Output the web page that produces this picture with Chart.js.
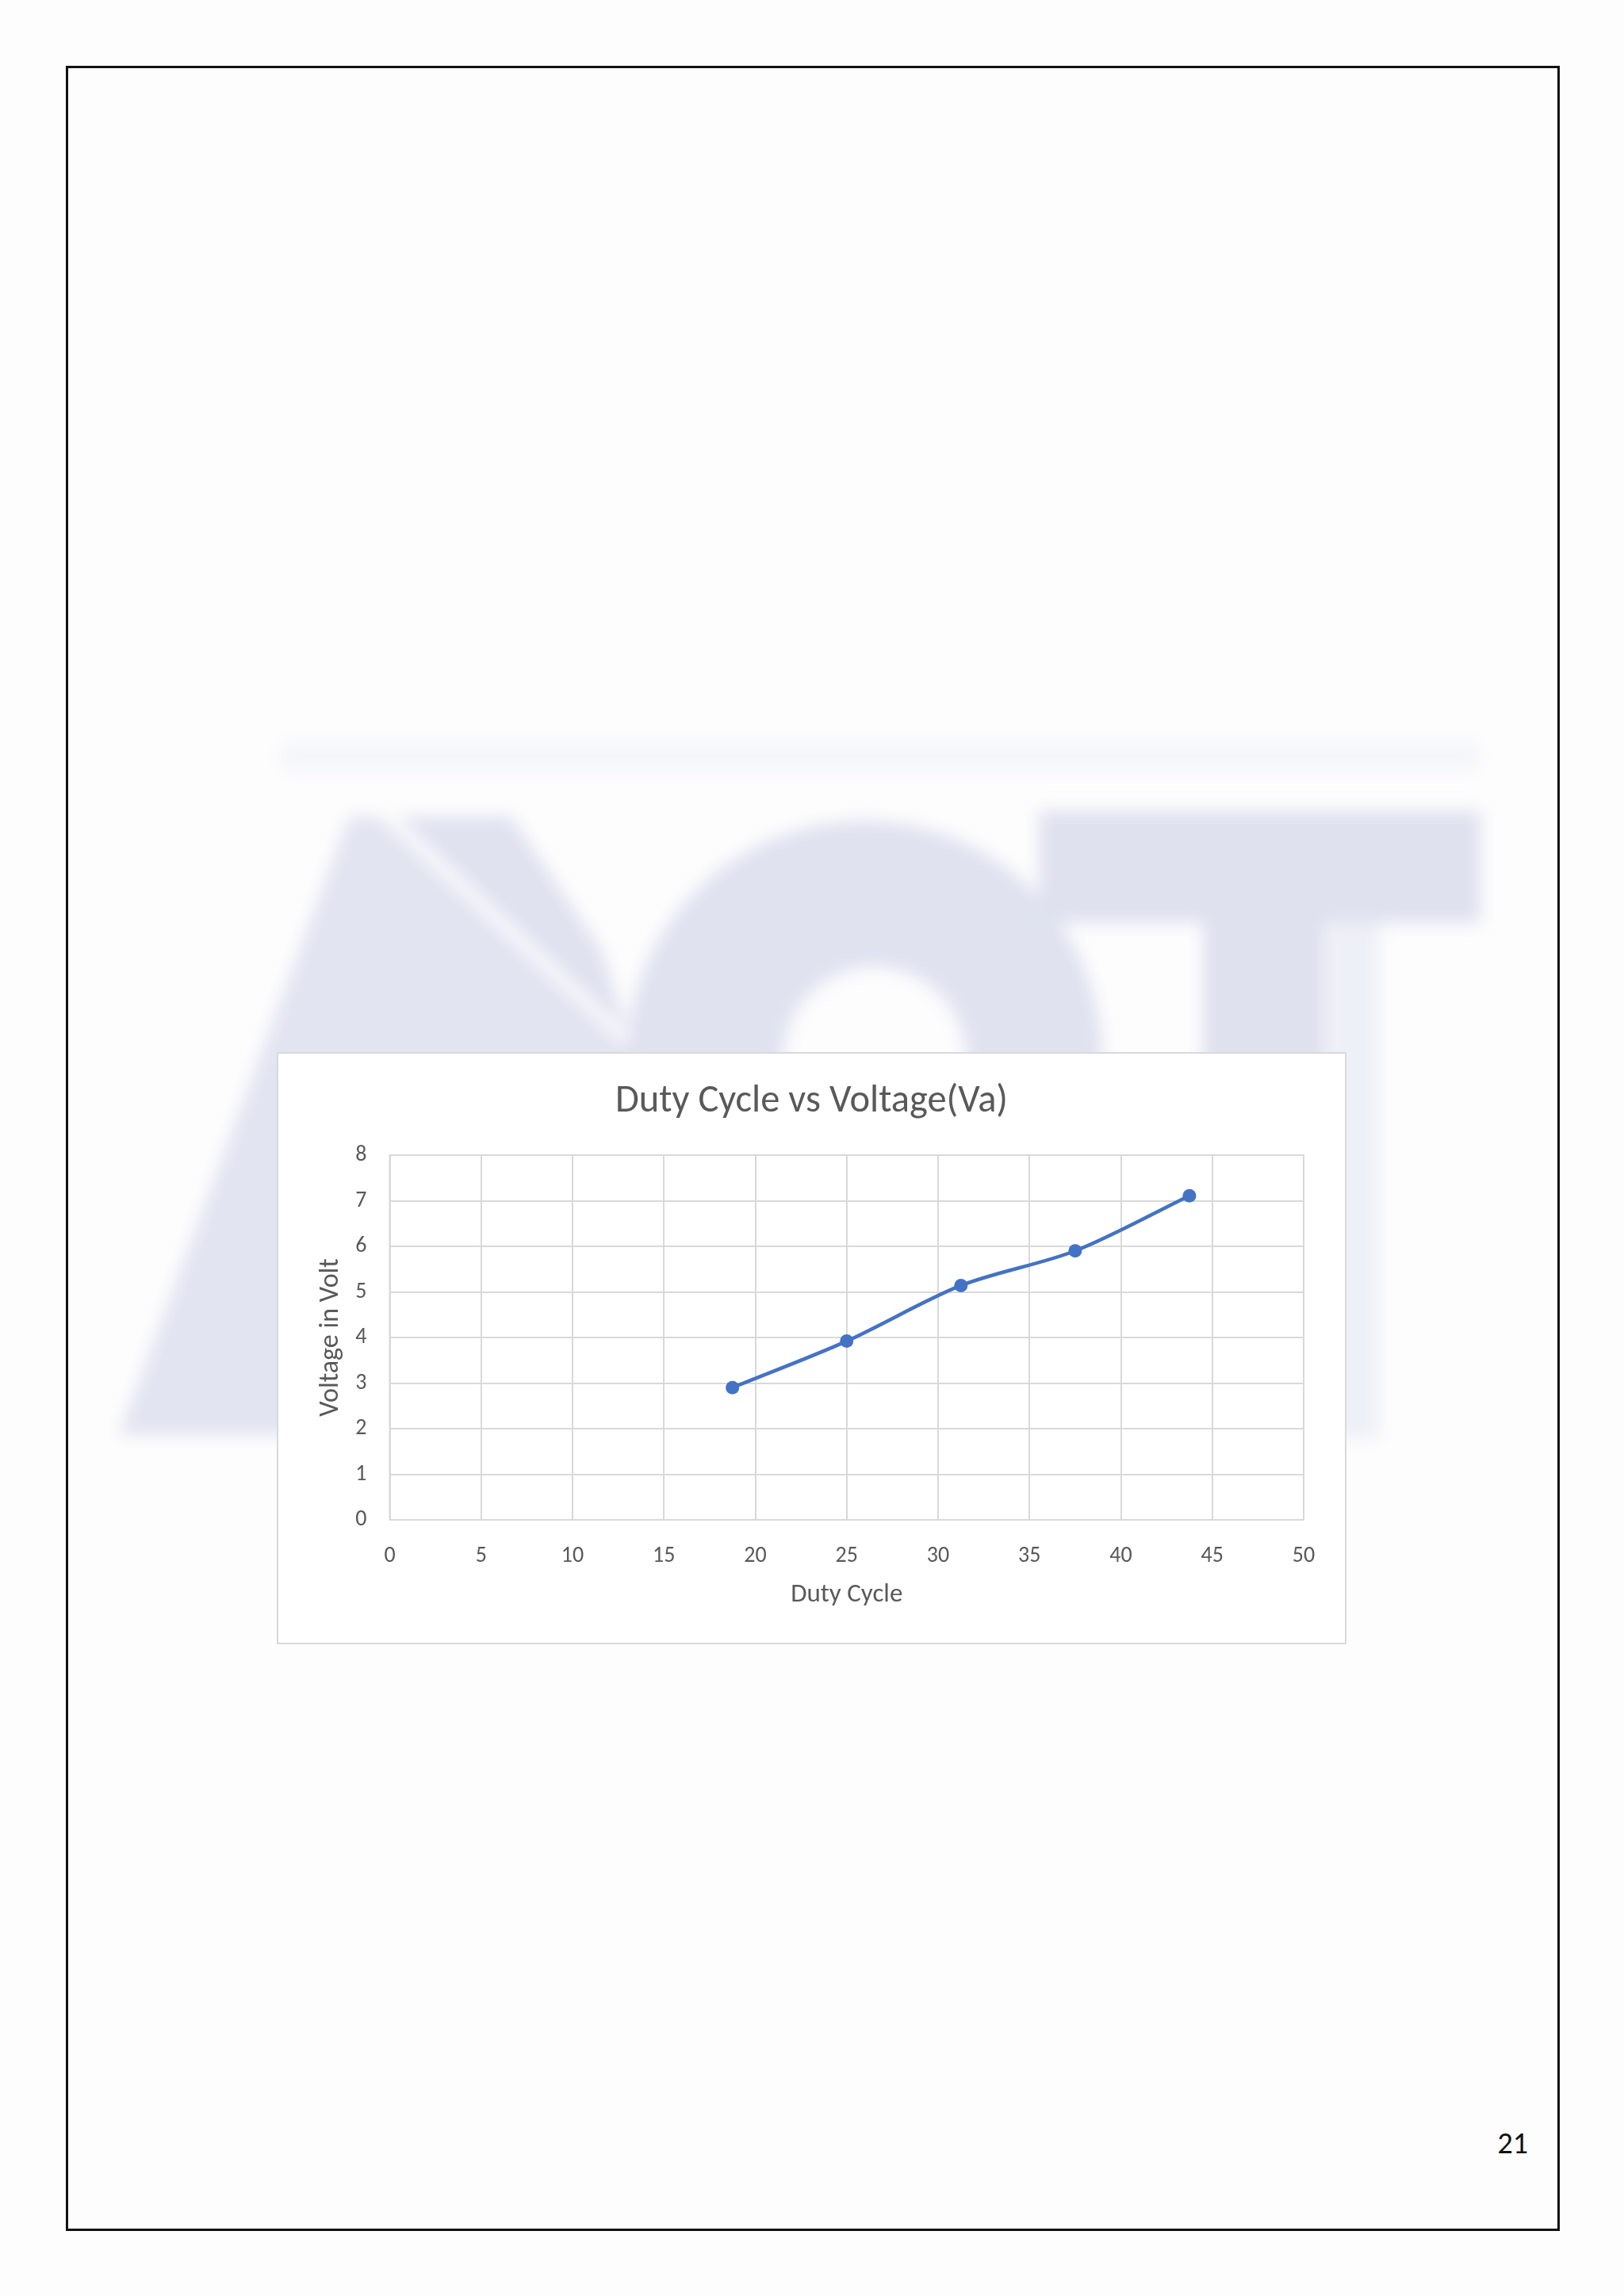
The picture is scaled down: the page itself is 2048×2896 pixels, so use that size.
<!DOCTYPE html>
<html>
<head>
<meta charset="utf-8">
<script src="https://cdn.jsdelivr.net/npm/chart.js@4"></script>
<style>
  html, body { margin:0; padding:0; background:#fdfdfe; }
  body { width:2048px; height:2896px; position:relative; overflow:hidden; font-family: Carlito, Lato, "Open Sans", sans-serif; }
  #page { position:absolute; left:83px; top:83px; width:1884px; height:2731px; border:3px solid #111; box-sizing:border-box; }
  #wm { position:absolute; left:0; top:0; }
  #box { position:absolute; left:349px; top:1327px; width:1349px; height:747px; border:2px solid #d9d9d9; box-sizing:border-box; background:#ffffff; }
  #c { position:absolute; left:351px; top:1329px; }
  #pg { position:absolute; right:121px; top:2680px; font-size:38px; color:#111; font-family: Carlito, Lato, sans-serif; }
</style>
</head>
<body>
<svg id="wm" width="2048" height="2896" xmlns="http://www.w3.org/2000/svg">
  <defs><filter id="bl" x="-10%" y="-10%" width="120%" height="120%"><feGaussianBlur stdDeviation="10"/></filter></defs>
  <g filter="url(#bl)">
    <rect x="355" y="935" width="1510" height="38" fill="#f5f6fa"/>
    <polygon points="440,1030 478,1030 800,1330 800,1810 150,1810" fill="#e2e4f1"/>
    <polygon points="500,1030 645,1030 760,1200 800,1330 820,1330" fill="#e0e2f0"/>
    <circle cx="1090" cy="1335" r="300" fill="#e0e2f0"/>
    <circle cx="1103" cy="1335" r="115" fill="#fdfdfe"/>
    <rect x="1310" y="1023" width="557" height="141" fill="#dfe1ef"/>
    <rect x="1517" y="1164" width="155" height="650" fill="#dfe1ef"/>
    <rect x="1677" y="1164" width="63" height="650" fill="#eef0f7"/>
  </g>
</svg>
<div id="page"></div>
<div id="box"></div>
<canvas id="c" width="1345" height="743"></canvas>
<div id="pg">21</div>
<script>
const dutyCycle = [18.75, 25, 31.25, 37.5, 43.75];
const voltage = [2.9, 3.92, 5.14, 5.9, 7.11];
const xMin = 0, xMax = 50, xStep = 5;
const yMin = 0, yMax = 8, yStep = 1;
const chartTitle = 'Duty Cycle vs Voltage(Va)';
const xTitle = 'Duty Cycle';
const yTitle = 'Voltage in Volt';

const points = dutyCycle.map((d, i) => ({ x: d, y: voltage[i] }));
const FONT = 'Carlito, Lato, "Open Sans", sans-serif';
const grid = { color: '#d9d9d9', lineWidth: 2, drawTicks: false };

new Chart(document.getElementById('c'), {
  type: 'line',
  data: {
    datasets: [{
      data: points,
      borderColor: '#4472C4',
      backgroundColor: '#4472C4',
      borderWidth: 4.5,
      pointRadius: 8.5,
      pointBorderWidth: 0,
      tension: 0.3,
      fill: false
    }]
  },
  options: {
    responsive: false,
    devicePixelRatio: 1,
    animation: false,
    layout: { padding: 0 },
    plugins: {
      legend: { display: false },
      tooltip: { enabled: false },
      title: {
        display: true,
        text: chartTitle,
        color: '#595959',
        font: { family: FONT, size: 48.5, weight: 'normal', lineHeight: 1.2 },
        padding: { top: 32, bottom: 37.8 }
      }
    },
    scales: {
      x: {
        type: 'linear',
        min: xMin, max: xMax,
        ticks: { stepSize: xStep, color: '#595959', font: { family: FONT, size: 28 }, padding: 29, maxRotation: 0 },
        grid: grid,
        border: { color: '#d0d0d0', width: 2 },
        title: { display: true, text: xTitle, color: '#595959', font: { family: FONT, size: 33, lineHeight: 1.2 }, padding: { top: 0, bottom: 40 } },
        afterFit: (s) => { s.height = 155; }
      },
      y: {
        min: yMin, max: yMax,
        ticks: { stepSize: yStep, color: '#595959', font: { family: FONT, size: 28 }, padding: 29 },
        grid: grid,
        border: { color: '#d9d9d9', width: 2 },
        title: { display: true, text: yTitle, color: '#595959', font: { family: FONT, size: 34, lineHeight: 1.2 }, padding: { top: 45.6, bottom: 0 } },
        afterFit: (s) => { s.width = 140.5; }
      },
      yRight: {
        position: 'right',
        min: yMin, max: yMax,
        grid: { display: false, drawTicks: false },
        border: { display: false },
        ticks: { display: false },
        afterFit: (s) => { s.width = 52; }
      }
    }
  },
  plugins: [{
    id: 'plotBorder',
    afterDraw(chart) {
      const { ctx, chartArea: a } = chart;
      ctx.save();
      ctx.strokeStyle = '#d9d9d9';
      ctx.lineWidth = 2;
      ctx.strokeRect(a.left, a.top, a.right - a.left, a.bottom - a.top);
      ctx.restore();
    }
  }]
});
</script>
</body>
</html>
